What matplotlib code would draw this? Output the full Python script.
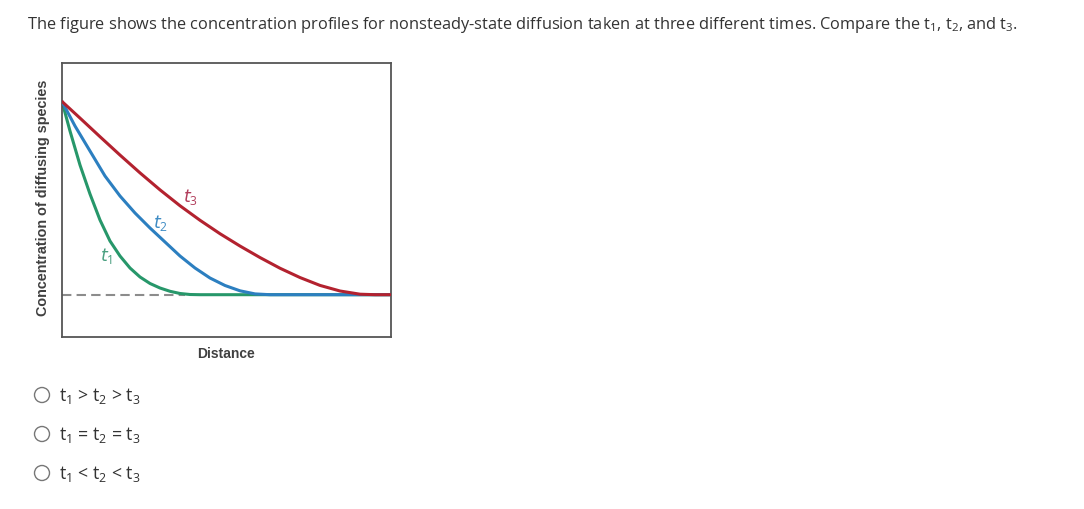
import matplotlib
matplotlib.use("Agg")
import matplotlib.pyplot as plt
from matplotlib.patches import Ellipse

plt.rcParams["mathtext.fontset"] = "custom"
plt.rcParams["mathtext.rm"] = "Open Sans"
plt.rcParams["mathtext.it"] = "DejaVu Sans:italic"

# ---- data (distance & concentration in arbitrary units) ----
baseline = 1.54
dashed_x = [0.0, 3.75]

t1_x = [0.0, 0.243, 0.547, 0.851, 1.155, 1.459, 1.763, 2.067, 2.371, 2.675,
        2.979, 3.283, 3.587, 3.891, 4.195, 10.0]
t1_y = [8.595, 7.518, 6.277, 5.219, 4.270, 3.504, 2.956, 2.518, 2.190, 1.953,
        1.788, 1.668, 1.588, 1.551, 1.544, 1.544]

t2_x = [0.0, 0.395, 0.851, 1.307, 1.763, 2.219, 2.675, 3.131, 3.587, 4.043,
        4.498, 4.954, 5.410, 5.866, 6.322, 10.0]
t2_y = [8.595, 7.701, 6.788, 5.876, 5.146, 4.526, 3.978, 3.467, 2.956, 2.518,
        2.153, 1.880, 1.686, 1.573, 1.544, 1.544]

t3_x = [0.0, 0.547, 1.155, 1.763, 2.371, 2.979, 3.587, 4.195, 4.802, 5.410,
        6.018, 6.626, 7.234, 7.842, 8.450, 9.058, 9.514, 10.0]
t3_y = [8.595, 7.990, 7.310, 6.640, 5.990, 5.370, 4.790, 4.260, 3.770, 3.320,
        2.900, 2.510, 2.170, 1.883, 1.679, 1.562, 1.544, 1.544]

label_subs = ["1", "2", "3"]
label_pos_x = [1.35, 2.98, 3.90]
label_pos_y = [2.98, 4.20, 5.15]

title = ("The figure shows the concentration profiles for nonsteady-state diffusion "
         "taken at three different times. Compare the t$_1$, t$_2$, and t$_3$.")
options = ["t$_1$ > t$_2$ > t$_3$", "t$_1$ = t$_2$ = t$_3$", "t$_1$ < t$_2$ < t$_3$"]

xlabel = "Distance"
ylabel = "Concentration of diffusing species"

# ---- figure ----
W, H = 1084, 510
fig = plt.figure(figsize=(W / 100, H / 100), dpi=100)
fig.patch.set_facecolor("white")

ax = fig.add_axes([62 / W, (H - 338) / H, (391 - 62) / W, (338 - 64) / H])
ax.set_xlim(0, 10)
ax.set_ylim(0, 10)
ax.set_xticks([])
ax.set_yticks([])
for s in ax.spines.values():
    s.set_color("#555555")
    s.set_linewidth(1.3)

green = "#27976a"
blue = "#2c7fc0"
red = "#b3222f"

ax.plot(dashed_x, [baseline, baseline], color="#8c8c8c", lw=1.5,
        dashes=(4.5, 2.5), zorder=1)
ax.plot(t1_x, t1_y, color=green, lw=2.2, solid_joinstyle="round",
        solid_capstyle="round", zorder=2)
ax.plot(t2_x, t2_y, color=blue, lw=2.2, solid_joinstyle="round",
        solid_capstyle="round", zorder=3)
ax.plot(t3_x, t3_y, color=red, lw=2.2, solid_joinstyle="round",
        solid_capstyle="round", zorder=4)

label_colors = ["#4a9f80", "#3f8cc4", "#b23e5c"]
for sub, x, y, c in zip(label_subs, label_pos_x, label_pos_y, label_colors):
    ax.text(x, y, r"$\mathit{t}_{\mathrm{%s}}$" % sub, color=c, fontsize=12.5,
            ha="center", va="center", zorder=5)

fig.text(226 / W, 1 - 354 / H, xlabel, ha="center", va="center",
         fontsize=10, color="#404040", family="Liberation Sans", fontweight="bold")
fig.text(43 / W, 1 - 198 / H, ylabel, ha="center", va="center", rotation=90,
         fontsize=10.4, color="#404040", family="Liberation Sans", fontweight="bold")

fam = ["Open Sans", "DejaVu Sans"]
fig.text(27 / W, 1 - 25 / H, title, ha="left", va="center",
         fontsize=11.75, color="#333333", family=fam)

ys = [396, 435, 474]
for opt, y in zip(options, ys):
    fig.add_artist(Ellipse((42 / W, 1 - y / H), 15 / W, 15 / H,
                           facecolor="white", edgecolor="#777777", lw=1.0,
                           transform=fig.transFigure))
    fig.text(59 / W, 1 - y / H, opt, ha="left", va="center",
             fontsize=12.8, color="#333333", family=fam)

fig.savefig("out.png", dpi=100)
